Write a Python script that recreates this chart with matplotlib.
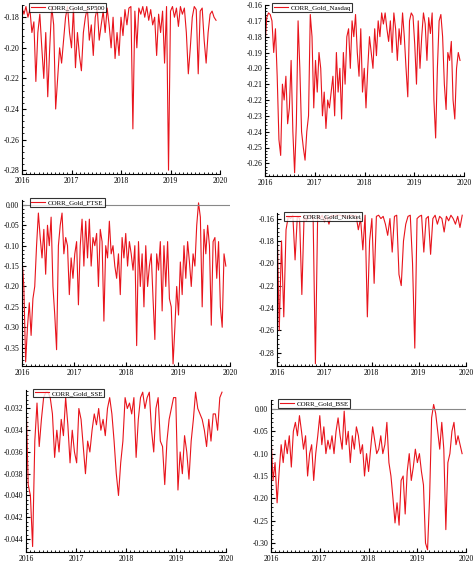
import matplotlib
matplotlib.use("Agg")
import matplotlib.pyplot as plt
import numpy as np
from matplotlib.ticker import MultipleLocator, FormatStrFormatter

plt.rcParams['font.family'] = 'Liberation Serif'
plt.rcParams['font.size'] = 5.5
plt.rcParams['axes.unicode_minus'] = False

sp500 = [-0.174, -0.178, -0.173, -0.18, -0.175, -0.19, -0.183, -0.222, -0.19, -0.178, -0.2, -0.22, -0.19,
         -0.232, -0.2, -0.173, -0.185, -0.24, -0.22, -0.2, -0.21, -0.195, -0.18, -0.173, -0.19, -0.2, -0.174,
         -0.213, -0.19, -0.205, -0.215, -0.19, -0.18, -0.174, -0.195, -0.185, -0.205, -0.18, -0.174, -0.195,
         -0.185, -0.176, -0.19, -0.174, -0.185, -0.2, -0.18, -0.207, -0.19, -0.205, -0.18, -0.192, -0.175,
         -0.185, -0.174, -0.173, -0.253, -0.176, -0.2, -0.174, -0.178, -0.173, -0.18, -0.173, -0.182, -0.175,
         -0.185, -0.18, -0.205, -0.178, -0.19, -0.176, -0.21, -0.173, -0.28, -0.176, -0.173, -0.18, -0.174,
         -0.186, -0.173, -0.178, -0.174, -0.19, -0.217, -0.2, -0.18, -0.173, -0.175, -0.217, -0.176, -0.174,
         -0.195, -0.21, -0.19, -0.178, -0.176, -0.18, -0.182]
nasdaq = [-0.185, -0.168, -0.165, -0.166, -0.17, -0.19, -0.175, -0.205, -0.245, -0.255, -0.21, -0.22, -0.205,
          -0.235, -0.225, -0.195, -0.24, -0.266, -0.235, -0.17, -0.2, -0.24, -0.25, -0.258, -0.24, -0.23, -0.166,
          -0.18, -0.225, -0.195, -0.215, -0.19, -0.2, -0.23, -0.215, -0.238, -0.22, -0.225, -0.215, -0.205,
          -0.23, -0.19, -0.215, -0.2, -0.232, -0.19, -0.21, -0.18, -0.175, -0.2, -0.17, -0.18, -0.166, -0.19,
          -0.205, -0.175, -0.215, -0.2, -0.225, -0.2, -0.18, -0.19, -0.2, -0.175, -0.192, -0.17, -0.18, -0.165,
          -0.172, -0.165, -0.175, -0.183, -0.17, -0.19, -0.165, -0.175, -0.195, -0.175, -0.185, -0.165, -0.18,
          -0.2, -0.218, -0.17, -0.165, -0.167, -0.185, -0.21, -0.17, -0.2, -0.18, -0.165, -0.172, -0.195,
          -0.168, -0.178, -0.165, -0.22, -0.244, -0.2, -0.17, -0.166, -0.18, -0.21, -0.226, -0.19, -0.195,
          -0.183, -0.22, -0.232, -0.2, -0.19, -0.195]
ftse = [-0.13, -0.2, -0.385, -0.3, -0.24, -0.32, -0.23, -0.2, -0.1, -0.02, -0.08, -0.13, -0.06, -0.17, -0.05,
        -0.1, -0.03, -0.2, -0.27, -0.355, -0.1, -0.05, -0.02, -0.12, -0.08, -0.1, -0.22, -0.13, -0.18, -0.12,
        -0.09, -0.245, -0.1, -0.035, -0.15, -0.04, -0.13, -0.035, -0.15, -0.08, -0.1, -0.07, -0.2, -0.06,
        -0.09, -0.285, -0.1, -0.13, -0.04, -0.12, -0.1, -0.15, -0.18, -0.12, -0.22, -0.08, -0.13, -0.07,
        -0.15, -0.09, -0.12, -0.16, -0.1, -0.345, -0.09, -0.2, -0.12, -0.25, -0.1, -0.2, -0.15, -0.12, -0.23,
        -0.33, -0.12, -0.16, -0.09, -0.26, -0.1, -0.2, -0.09, -0.23, -0.25, -0.39, -0.3, -0.2, -0.27, -0.14,
        -0.22, -0.1, -0.18, -0.09, -0.14, -0.2, -0.12, -0.15, -0.05, 0.005, -0.03, -0.25, -0.06, -0.12, -0.05,
        -0.1, -0.295, -0.09, -0.08, -0.18, -0.09, -0.25, -0.3, -0.12, -0.15]
nikkei = [-0.16, -0.26, -0.18, -0.248, -0.17, -0.158, -0.16, -0.157, -0.197, -0.158, -0.16, -0.228, -0.157,
          -0.162, -0.158, -0.157, -0.16, -0.29, -0.157, -0.16, -0.157, -0.163, -0.158, -0.165, -0.157, -0.158,
          -0.157, -0.157, -0.157, -0.158, -0.157, -0.16, -0.157, -0.157, -0.158, -0.157, -0.17, -0.16, -0.188,
          -0.157, -0.248, -0.18, -0.16, -0.218, -0.158, -0.157, -0.16, -0.158, -0.165, -0.175, -0.16, -0.19,
          -0.158, -0.157, -0.21, -0.22, -0.18, -0.165, -0.158, -0.157, -0.2, -0.276, -0.16, -0.158, -0.157,
          -0.19, -0.16, -0.158, -0.192, -0.16, -0.157, -0.165, -0.158, -0.16, -0.172, -0.158, -0.162, -0.157,
          -0.16, -0.165, -0.158, -0.168, -0.157]
sse = [-0.031, -0.039, -0.04, -0.0447, -0.035, -0.0315, -0.0355, -0.033, -0.031, -0.0305, -0.0305, -0.031,
       -0.0325, -0.0365, -0.034, -0.036, -0.033, -0.0345, -0.031, -0.0335, -0.037, -0.034, -0.036, -0.037,
       -0.032, -0.033, -0.0355, -0.038, -0.035, -0.036, -0.034, -0.0325, -0.0335, -0.032, -0.034, -0.033,
       -0.0345, -0.032, -0.031, -0.0325, -0.035, -0.038, -0.04, -0.037, -0.035, -0.031, -0.032, -0.0315,
       -0.0325, -0.031, -0.0365, -0.033, -0.031, -0.0305, -0.032, -0.031, -0.0305, -0.034, -0.036, -0.032,
       -0.031, -0.035, -0.0355, -0.039, -0.035, -0.033, -0.032, -0.031, -0.031, -0.0395, -0.036, -0.038,
       -0.0345, -0.036, -0.0385, -0.035, -0.033, -0.0305, -0.032, -0.0325, -0.033, -0.034, -0.0355, -0.033,
       -0.035, -0.0325, -0.0325, -0.034, -0.031, -0.0305]
bse = [-0.06, -0.16, -0.12, -0.21, -0.14, -0.08, -0.12, -0.07, -0.1, -0.06, -0.13, -0.05, -0.03, -0.06, -0.015,
       -0.05, -0.09, -0.06, -0.15, -0.1, -0.08, -0.16, -0.1, -0.06, -0.015, -0.08, -0.04, -0.1, -0.07, -0.09,
       -0.06, -0.1, -0.05, -0.02, -0.06, -0.09, -0.005, -0.08, -0.05, -0.12, -0.06, -0.09, -0.04, -0.06, -0.1,
       -0.08, -0.15, -0.1, -0.14, -0.09, -0.04, -0.07, -0.1, -0.09, -0.06, -0.1, -0.08, -0.03, -0.12, -0.15,
       -0.2, -0.255, -0.21, -0.26, -0.16, -0.15, -0.235, -0.14, -0.1, -0.16, -0.13, -0.09, -0.12, -0.1, -0.14,
       -0.17, -0.3, -0.315, -0.2, -0.02, 0.01, -0.01, -0.05, -0.09, -0.03, -0.09, -0.27, -0.12, -0.1, -0.05,
       -0.03, -0.08, -0.06, -0.08, -0.1]

# (name, values, rect in pixels l,t,r,b, ylim, major step, fmt, zero line)
panels = [
    ("CORR_Gold_SP500", sp500, (22, 5, 220, 174), (-0.2825, -0.172), 0.02, '%.2f', False),
    ("CORR_Gold_Nasdaq", nasdaq, (265, 5, 464, 176), (-0.268, -0.16), 0.01, '%.2f', False),
    ("CORR_Gold_FTSE", ftse, (22, 200, 230, 366), (-0.395, 0.012), 0.05, '%.2f', True),
    ("CORR_Gold_Nikkei", nikkei, (277, 213, 466, 366), (-0.292, -0.155), 0.02, '%.2f', False),
    ("CORR_Gold_SSE", sse, (26, 390, 226, 552), (-0.0452, -0.0303), 0.002, '%.3f', False),
    ("CORR_Gold_BSE", bse, (271, 400, 466, 552), (-0.32, 0.02), 0.05, '%.2f', True),
]

W, H = 474, 565
fig = plt.figure(figsize=(W / 100, H / 100), dpi=100)
for name, vals, (l, t, r, b), ylim, step, fmt, zero in panels:
    ax = fig.add_axes([l / W, (H - b) / H, (r - l) / W, (b - t) / H])
    x = np.linspace(2016, 2019.92, len(vals))
    ax.plot(x, vals, color='#e8141c', lw=0.8, label=name)
    if zero:
        ax.axhline(0, color='#888888', lw=0.8)
    ax.set_xlim(2016, 2020)
    ax.set_ylim(*ylim)
    ax.xaxis.set_major_locator(MultipleLocator(1))
    ax.xaxis.set_minor_locator(MultipleLocator(1 / 12))
    ax.xaxis.set_major_formatter(FormatStrFormatter('%d'))
    ax.yaxis.set_major_locator(MultipleLocator(step))
    ax.yaxis.set_minor_locator(MultipleLocator(step / 5))
    ax.yaxis.set_major_formatter(FormatStrFormatter(fmt))
    for s in ('top', 'right'):
        ax.spines[s].set_visible(False)
    ax.tick_params(which='both', direction='in', labelsize=5.5, pad=2)
    ax.tick_params(which='major', length=3)
    ax.tick_params(which='minor', length=1.5)
    leg = ax.legend(loc='upper left', bbox_to_anchor=(0.02, 1.03), fontsize=5, frameon=True,
                    fancybox=False, handlelength=2, borderpad=0.2, handletextpad=0.4)
    leg.get_frame().set_edgecolor('black')
    leg.get_frame().set_linewidth(0.8)

fig.savefig('out.png', dpi=100)
